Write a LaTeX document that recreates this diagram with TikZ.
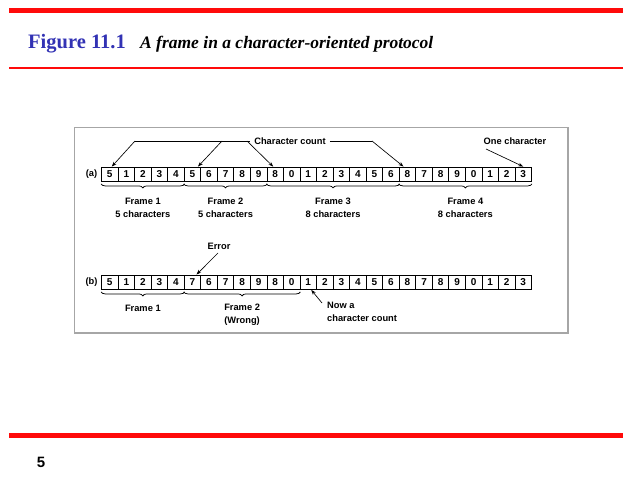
\documentclass[tikz,border=0pt]{standalone}
\usepackage{fontspec}
\setmainfont{Liberation Serif}
\newfontfamily\diagfont{Liberation Sans}
\usetikzlibrary{decorations.pathreplacing,arrows.meta}
\definecolor{titleblue}{RGB}{50,50,180}
\definecolor{slidered}{RGB}{255,10,10}
\begin{document}
\begin{tikzpicture}[x=1pt,y=-1pt,
 cell/.style={draw=black, line width=0.8pt, minimum width=16.54pt, minimum height=14.5pt, inner sep=0pt, font=\diagfont\bfseries\fontsize{10}{11}\selectfont},
 lbl/.style={font=\diagfont\bfseries\fontsize{9.3}{12.5}\selectfont, inner sep=1pt},
 ptr/.style={-{Stealth[length=5pt,width=3.6pt]}, line width=0.65pt},
 plain/.style={line width=0.65pt},
 brc/.style={decorate, decoration={brace, mirror, amplitude=4pt}, line width=0.75pt},
 redrule/.style={draw=slidered},
]
\useasboundingbox (0,0) rectangle (638,478);
% slide rules
\draw[redrule, line width=5pt] (9,10.5) -- (623,10.5);
\draw[redrule, line width=2pt] (9,68) -- (623,68);
\draw[redrule, line width=5pt] (9,435.5) -- (623,435.5);
% title
\node[anchor=base west, inner sep=0pt, text=titleblue, font=\bfseries\fontsize{20.5}{22}\selectfont] (fig) at (28,48.5) {Figure 11.1};
\node[anchor=base west, inner sep=0pt, font=\bfseries\itshape\fontsize{17.5}{19}\selectfont] (cap) at (140,48.5) {A frame in a character-oriented protocol};
\node[anchor=base, inner sep=0pt, font=\diagfont\bfseries\fontsize{15}{17}\selectfont] (pg) at (41,468) {5};
% diagram frame
\draw[gray!70, line width=1.2pt] (74.5,127.5) rectangle (568,333);
% rows
\node[lbl] (la) at (91.5,174.25) {(a)};
\node[lbl] (lb) at (91.5,282.25) {(b)};
\foreach [count=\i from 0] \d in {5,1,2,3,4,5,6,7,8,9,8,0,1,2,3,4,5,6,8,7,8,9,0,1,2,3}
  \node[cell] (a\i) at ({101.5+(\i+0.5)*16.54},174.25) {\d};
\foreach [count=\i from 0] \d in {5,1,2,3,4,7,6,7,8,9,8,0,1,2,3,4,5,6,8,7,8,9,0,1,2,3}
  \node[cell] (b\i) at ({101.5+(\i+0.5)*16.54},282.25) {\d};
% braces row a
\draw[brc] ([yshift=-2pt]a0.south west) -- ([yshift=-2pt]a4.south east);
\draw[brc] ([yshift=-2pt]a5.south west) -- ([yshift=-2pt]a9.south east);
\draw[brc] ([yshift=-2pt]a10.south west) -- ([yshift=-2pt]a17.south east);
\draw[brc] ([yshift=-2pt]a18.south west) -- ([yshift=-2pt]a25.south east);
\node[lbl, align=center] (fa1) at (142.85,208) {Frame 1\\5 characters};
\node[lbl, align=center] (fa2) at (225.55,208) {Frame 2\\5 characters};
\node[lbl, align=center] (fa3) at (333.05,208) {Frame 3\\8 characters};
\node[lbl, align=center] (fa4) at (465.35,208) {Frame 4\\8 characters};
% braces row b
\draw[brc] ([yshift=-2pt]b0.south west) -- ([yshift=-2pt]b4.south east);
\draw[brc] ([yshift=-2pt]b5.south west) -- ([yshift=-2pt]b11.south east);
\node[lbl] (fb1) at (142.85,308) {Frame 1};
\node[lbl, align=center] (fb2) at (242.1,314.5) {Frame 2\\(Wrong)};
% character count pointers
\node[lbl, inner xsep=4pt] (cc) at (290,141) {Character count};
\coordinate (ccL) at (135,141);
\coordinate (cc2) at (222,141);
\coordinate (cc3) at (247,141);
\coordinate (ccR) at (372,141);
\draw[plain] (ccL) -- (cc.west);
\draw[plain] (cc.east) -- (ccR);
\draw[ptr] (ccL) -- ([xshift=2pt]a0.north);
\draw[ptr] (cc2) -- ([xshift=5.5pt]a5.north);
\draw[ptr] (cc3) -- ([xshift=-2pt]a10.north);
\draw[ptr] (ccR) -- ([xshift=-4pt]a18.north);
% one character
\node[lbl] (one) at (515,141) {One character};
\coordinate (oneS) at (486,149);
\draw[ptr] (oneS) -- (a25.north);
% error
\node[lbl] (err) at (219,246) {Error};
\coordinate (errS) at (218,253);
\draw[ptr] (errS) -- ([xshift=4pt]b5.north);
% now a character count
\node[lbl, align=left, anchor=north west] (now) at (326,301) {Now a\\character count};
\coordinate (nowS) at (322,303);
\draw[ptr] (nowS) -- ([xshift=3pt]b12.south);
\end{tikzpicture}
\end{document}
